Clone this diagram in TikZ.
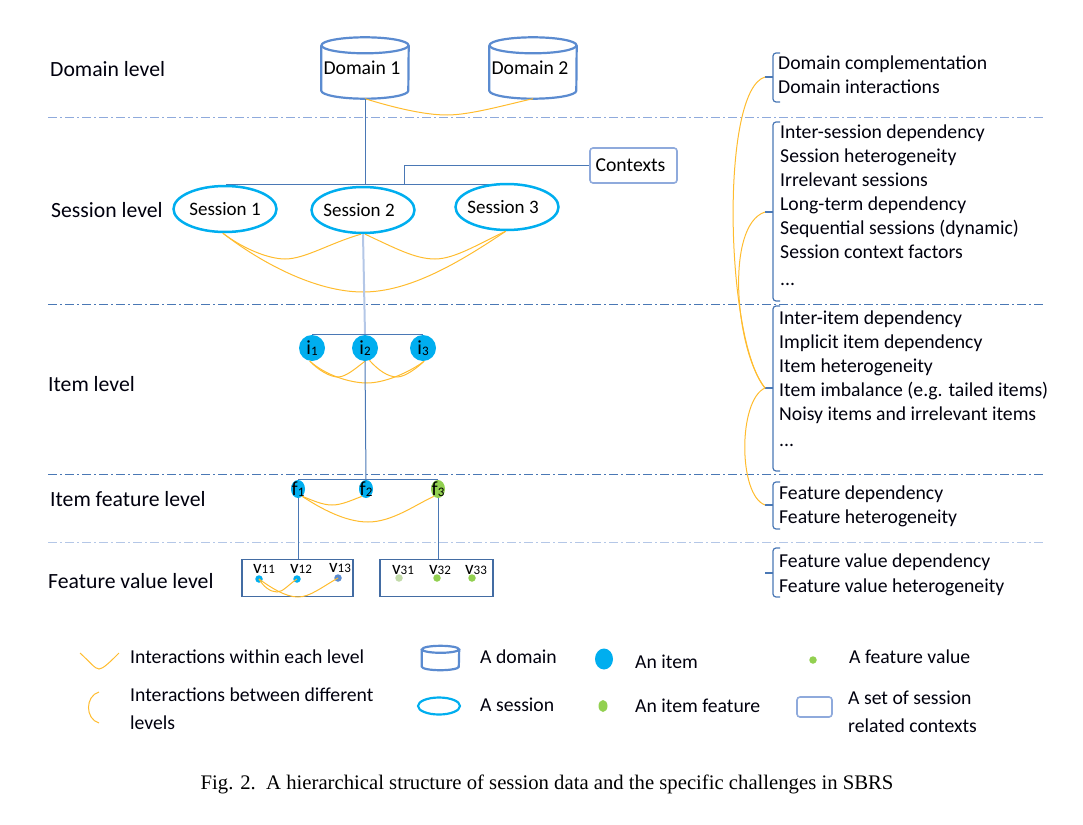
\documentclass[tikz,border=0pt]{standalone}
\usepackage{fontspec}
\setmainfont{Carlito}
\newfontfamily\capfont{Liberation Serif}
\usetikzlibrary{shapes.geometric}
\definecolor{lnk}{HTML}{4A78B5}
\definecolor{cyl}{HTML}{5B8BD0}
\definecolor{sess}{HTML}{00AEEF}
\definecolor{grn}{HTML}{92D050}
\definecolor{org}{HTML}{FFBC2E}
\definecolor{pale}{HTML}{B4C7E7}
\definecolor{ctx}{HTML}{8FAADC}
\newcommand{\sbs}[2]{\smash{\makebox[6pt]{\raisebox{-6pt}{{\fontsize{20}{20}\selectfont #1}{\fontsize{13}{13}\selectfont\raisebox{-0.12em}{#2}}}}}}
\newcommand{\vsub}[2]{{\fontsize{19}{19}\selectfont #1}{\fontsize{13}{13}\selectfont #2}}
\newcommand{\bigfs}{\fontsize{19.7}{19.7}\selectfont}
\newcommand{\sesstxt}[1]{\makebox[40pt]{#1}}
% cylinder outline around a named rectangular node: name, half width, end radius
\newcommand{\cylaround}[3]{%
 \draw[cyl,line width=2.2pt] ([yshift=-#3pt]#1.north) ellipse [x radius=#2pt,y radius=#3pt];
 \draw[cyl,line width=2.2pt] ([yshift=-#3pt]#1.north west) -- ([yshift=#3pt]#1.south west)
   arc[start angle=180,end angle=360,x radius=#2pt,y radius=#3pt] -- ([yshift=-#3pt]#1.north east);}
\tikzset{
 txt/.style={anchor=mid west,inner sep=0pt,yshift=-4.2pt,font=\bigfs,text=black!95!blue},
 lvl/.style={txt,yshift=-0.5pt,font=\fontsize{21.7}{21.7}\selectfont},
 ndom/.style={inner sep=0pt,minimum width=87pt,minimum height=61pt,font=\bigfs},
 nsess/.style={draw=sess,line width=2.5pt,ellipse,minimum width=103pt,minimum height=46pt,inner sep=0pt,font=\fontsize{19}{19}\selectfont},
 nitem/.style={circle,fill=sess,minimum size=26pt,inner sep=0pt},
 nfeat/.style={ellipse,fill=#1,minimum width=14pt,minimum height=18pt,inner sep=0pt},
 vdot/.style={circle,fill=#1,minimum size=7.5pt,inner sep=0pt},
 vlab/.style={inner sep=0pt},
 lnkline/.style={draw=lnk,line width=1pt},
 iact/.style={draw=org,line width=1pt},
 sepline/.style={line width=1pt,dash pattern=on 9pt off 3pt on 2pt off 3pt},
 brace/.style={draw=lnk,line width=1.2pt},
 vbox/.style={draw=lnk!90!black,line width=1.1pt,minimum height=37pt,inner sep=0pt},
 ctxbox/.style={draw=ctx,line width=1.6pt,rounded corners=3pt,inner sep=0pt},
}
\newcommand{\brk}[4]{\coordinate (#1) at (765,#3);
 \draw[brace,rounded corners=3pt] (780,#2) -- (773,#2) -- (773,#4) -- (780,#4);
 \draw[brace] (773,#3) -- (#1);}
\begin{document}
\begin{tikzpicture}[x=1pt,y=-1pt]
\useasboundingbox (0,0) rectangle (1083,824);
% separators
\coordinate (a1) at (48,118); \coordinate (a2) at (1045,118);
\coordinate (b1) at (48,304); \coordinate (b2) at (1045,304);
\coordinate (c1) at (48,474); \coordinate (c2) at (1045,474);
\coordinate (e1) at (48,542); \coordinate (e2) at (1045,542);
\draw[sepline,draw=ctx] (a1) -- (a2);
\draw[sepline,draw=lnk] (b1) -- (b2);
\draw[sepline,draw=lnk] (c1) -- (c2);
\draw[sepline,draw=pale] (e1) -- (e2);
% level labels
\node[lvl] (l1) at (50,69) {Domain level};
\node[lvl] (l2) at (51,210) {Session level};
\node[lvl] (l3) at (48,384) {Item level};
\node[lvl] (l4) at (50,499) {Item feature level};
\node[lvl] (l5) at (48,581) {Feature value level};
% domains
\node[ndom] (d1) at (365,68) {\raisebox{-8pt}{Domain 1}\hspace*{6pt}};
\node[ndom] (d2) at (533,68) {\raisebox{-8pt}{Domain 2}\hspace*{6pt}};
\cylaround{d1}{43.5}{8}
\cylaround{d2}{43.5}{8}
\draw[iact] (d1.south) .. controls (395,108) and (425,115) .. (447,115) .. controls (470,115) and (505,105) .. (d2.south);
% sessions
\coordinate (h1) at (226,184); \coordinate (h2) at (502,184);
\coordinate (hd) at (365,184); \coordinate (hc) at (404,184);
\draw[lnkline] (h1) -- (h2);
\draw[lnkline] (d1.south) -- (hd);
\node[ctxbox,minimum width=87pt,minimum height=35pt] (ctx) at (633.5,165.5) {\raisebox{-2pt}{\bigfs Contexts}\hspace*{6pt}};
\draw[lnkline] (hc) |- (ctx.west);
\node[nsess] (s1) at (225,209) {\sesstxt{Session 1}};
\node[nsess] (s2) at (363,210) {\sesstxt{Session 2\hspace*{8pt}}};
\node[nsess] (s3) at (507,207) {\sesstxt{Session 3\hspace*{8pt}}};
\draw[iact] (s1.-95) .. controls (245,250) and (270,259) .. (285,259) .. controls (305,259) and (330,243) .. (s2.-95);
\draw[iact] (s2.-85) .. controls (395,248) and (415,259) .. (435,259) .. controls (455,259) and (480,243) .. (s3.-93);
\draw[iact] (s1.-95) .. controls (260,262) and (315,292) .. (363,292) .. controls (410,292) and (460,262) .. (s3.-93);
% items
\node[nitem] (i1) at (312,348) {\sbs{i}{1}};
\node[nitem] (i2) at (365,348) {\sbs{i}{2}};
\node[nitem] (i3) at (423,348) {\sbs{i}{3}};
\draw[pale,line width=2pt] (s2.south) -- (i2.north);
\draw[lnkline] (i1.north) -- (i3.north);
\draw[iact] (i1.-100) .. controls (318,370) and (330,377) .. (338,377) .. controls (346,377) and (356,368) .. (i2.-90);
\draw[iact] (i2.-70) .. controls (378,370) and (388,377) .. (397,377) .. controls (405,377) and (417,368) .. (i3.-85);
\draw[iact] (i1.-100) .. controls (325,375) and (350,383) .. (367,383) .. controls (385,383) and (410,372) .. (i3.-85);
% features
\node[nfeat=sess] (f1) at (298,489) {\sbs{f}{1}};
\node[nfeat=sess] (f2) at (366,489) {\sbs{f}{2}};
\node[nfeat=grn] (f3) at (438,489) {\sbs{f}{3}};
\draw[lnkline] (i2.south) -- (f2.north);
\draw[lnkline] (f1.north) -- (f3.north);
\draw[iact] (f1.-60) .. controls (312,500) and (322,505) .. (332,505) .. controls (342,505) and (352,500) .. (f2.-120);
\draw[iact] (f1.-60) .. controls (320,508) and (345,522) .. (368,522) .. controls (392,522) and (415,505) .. (f3.-120);
% values
\node[vbox,minimum width=111pt] (b1box) at (297.5,578) {};
\node[vbox,minimum width=113pt] (b2box) at (436.5,578) {};
\draw[lnkline] (f1.south) -- (f1.south |- b1box.north);
\draw[lnkline] (f3.south) -- (f3.south |- b2box.north);
\node[vdot=sess] (v11) at (259,579) {};
\node[vdot=sess] (v12) at (297,579) {};
\node[vdot=cyl] (v13) at (338,578) {};
\node[vdot=grn!45!white!85!gray] (v31) at (399,578) {};
\node[vdot=grn] (v32) at (437,578) {};
\node[vdot=grn] (v33) at (472,578) {};
\node[vlab] (t11) at (264,569) {\vsub{v}{11}};
\node[vlab] (t12) at (301,569) {\vsub{v}{12}};
\node[vlab] (t13) at (340,568) {\vsub{v}{13}};
\node[vlab] (t31) at (403,570) {\vsub{v}{31}};
\node[vlab] (t32) at (440,570) {\vsub{v}{32}};
\node[vlab] (t33) at (476,570) {\vsub{v}{33}};
\draw[iact] (v11.center) .. controls (263,586) and (270,592) .. (277,592) .. controls (283,592) and (288,585) .. (v12.center);
\draw[iact] (v11.center) .. controls (270,587) and (285,597) .. (298,597) .. controls (310,597) and (322,587) .. (v13.center);
% right brackets
\brk{bd}{53}{77}{102}
\brk{bs}{122}{212}{301}
\brk{bi}{306}{388}{471}
\brk{bf}{482}{505}{529}
\brk{bv}{548}{573}{597}
\draw[iact] (bd) .. controls (720,90) and (725,340) .. (bi);
\draw[iact] (bs) .. controls (725,225) and (735,350) .. (bi);
\draw[iact] (bf) .. controls (738,495) and (738,400) .. (bi);
\node[txt] (r11) at (778,63) {Domain complementation};
\node[txt] (r12) at (778,87) {Domain interactions};
\node[txt] (r21) at (780,132) {Inter-session dependency};
\node[txt] (r22) at (780,156) {Session heterogeneity};
\node[txt] (r23) at (780,180) {Irrelevant sessions};
\node[txt] (r24) at (780,204) {Long-term dependency};
\node[txt] (r25) at (780,228) {Sequential sessions (dynamic)};
\node[txt] (r26) at (780,252) {Session context factors};
\node[txt] (r27) at (780,279) {...};
\node[txt] (r31) at (779,318) {Inter-item dependency};
\node[txt] (r32) at (779,342) {Implicit item dependency};
\node[txt] (r33) at (779,366) {Item heterogeneity};
\node[txt] (r34) at (779,390) {Item imbalance (e.g. tailed items)};
\node[txt] (r35) at (779,414) {Noisy items and irrelevant items};
\node[txt] (r36) at (779,440) {...};
\node[txt] (r41) at (779,493) {Feature dependency};
\node[txt] (r42) at (779,517) {Feature heterogeneity};
\node[txt] (r51) at (779,561) {Feature value dependency};
\node[txt] (r52) at (779,586) {Feature value heterogeneity};
% legend
\coordinate (k1) at (80,653); \coordinate (k2) at (119,653);
\coordinate (k3) at (99,692); \coordinate (k4) at (99,723);
\draw[iact] (k1) .. controls (90,662) and (95,669) .. (99,669) .. controls (103,669) and (110,662) .. (k2);
\draw[iact] (k3) .. controls (85,696) and (85,719) .. (k4);
\node[txt] (kt1) at (130,657) {Interactions within each level};
\node[txt] (kt2) at (130,695) {Interactions between different};
\node[txt] (kt3) at (130,723) {levels};
\node[ndom,minimum width=37pt,minimum height=24pt] (kd) at (440.5,658) {};
\cylaround{kd}{18.5}{3.5}
\node[txt] (kt4) at (480,657) {A domain};
\node[nsess,minimum width=42pt,minimum height=17pt,line width=2.2pt] (ks) at (439,706) {};
\node[txt] (kt5) at (480,705) {A session};
\node[ellipse,fill=sess,minimum width=18pt,minimum height=21pt,inner sep=0pt] (ki) at (604,659) {};
\node[txt] (kt6) at (635,662) {An item};
\node[ellipse,fill=grn,minimum width=9pt,minimum height=12pt,inner sep=0pt] (kf) at (603,706) {};
\node[txt] (kt7) at (635,706) {An item feature};
\node[vdot=grn] (kv) at (813,660) {};
\node[txt] (kt8) at (849,657) {A feature value};
\node[ctxbox,minimum width=35pt,minimum height=20pt] (kc) at (814.5,707) {};
\node[txt] (kt9) at (848,698) {A set of session};
\node[txt] (kt10) at (848,726) {related contexts};
\node[inner sep=0pt,font=\capfont\fontsize{20.7}{20.7}\selectfont] (cap) at (547,784) {Fig. 2.\ \ A hierarchical structure of session data and the specific challenges in SBRS};
\end{tikzpicture}
\end{document}
